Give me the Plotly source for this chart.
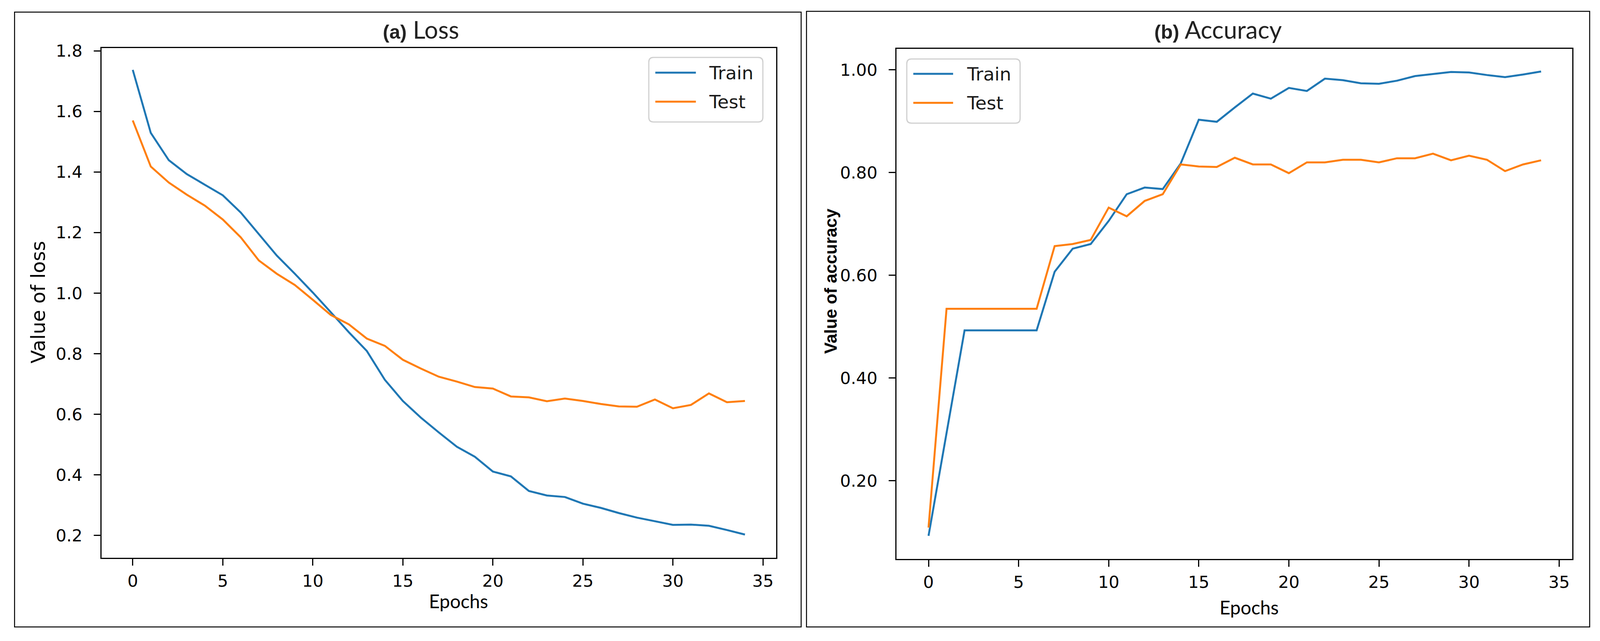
import plotly.graph_objects as go

W, H = 4180, 1641
# the rendered page area starts a little below the top of the captured picture;
# vertical paper positions are mapped to keep reference pixel rows aligned
TOP_OFF, FIG_H = 19, 1622

epochs = list(range(35))

loss_train = [1.737, 1.529, 1.439, 1.393, 1.358, 1.323, 1.266, 1.196, 1.124, 1.064,
              1.002, 0.937, 0.871, 0.809, 0.714, 0.644, 0.589, 0.540, 0.493, 0.460,
              0.411, 0.395, 0.347, 0.332, 0.327, 0.305, 0.291, 0.274, 0.259, 0.247,
              0.235, 0.236, 0.232, 0.218, 0.203]
loss_test = [1.570, 1.418, 1.365, 1.325, 1.289, 1.243, 1.184, 1.108, 1.064, 1.027,
             0.978, 0.928, 0.897, 0.850, 0.826, 0.780, 0.751, 0.724, 0.708, 0.690,
             0.685, 0.659, 0.656, 0.643, 0.652, 0.644, 0.634, 0.626, 0.625, 0.649,
             0.620, 0.631, 0.669, 0.640, 0.644]

acc_train = [0.093, 0.295, 0.493, 0.493, 0.493, 0.493, 0.493, 0.607, 0.652, 0.661,
             0.706, 0.758, 0.771, 0.768, 0.818, 0.903, 0.899, 0.927, 0.954, 0.944,
             0.965, 0.959, 0.983, 0.980, 0.974, 0.973, 0.979, 0.988, 0.992, 0.996,
             0.995, 0.990, 0.986, 0.991, 0.997]
acc_test = [0.109, 0.535, 0.535, 0.535, 0.535, 0.535, 0.535, 0.657, 0.661, 0.669,
            0.732, 0.715, 0.745, 0.758, 0.816, 0.812, 0.811, 0.829, 0.816, 0.816,
            0.799, 0.820, 0.820, 0.825, 0.825, 0.820, 0.828, 0.828, 0.837, 0.824,
            0.833, 0.825, 0.803, 0.816, 0.824]

series_names = ["Train", "Test"]
x_ticks = [0, 5, 10, 15, 20, 25, 30, 35]
loss_ticks = [0.2, 0.4, 0.6, 0.8, 1.0, 1.2, 1.4, 1.6, 1.8]
acc_ticks = [0.2, 0.4, 0.6, 0.8, 1.0]

BLUE = "#1f77b4"
ORANGE = "#ff7f0e"
COLORS = [BLUE, ORANGE]


def px_x(p):
    return p / W


def px_y(p):
    return 1 - (p - TOP_OFF) / FIG_H


fig = go.Figure()

fig.add_trace(go.Scatter(x=epochs, y=loss_train, mode="lines", name=series_names[0],
                         line=dict(color=BLUE, width=5), xaxis="x", yaxis="y"))
fig.add_trace(go.Scatter(x=epochs, y=loss_test, mode="lines", name=series_names[1],
                         line=dict(color=ORANGE, width=5), xaxis="x", yaxis="y"))
fig.add_trace(go.Scatter(x=epochs, y=acc_train, mode="lines", name=series_names[0],
                         line=dict(color=BLUE, width=5), xaxis="x2", yaxis="y2"))
fig.add_trace(go.Scatter(x=epochs, y=acc_test, mode="lines", name=series_names[1],
                         line=dict(color=ORANGE, width=5), xaxis="x2", yaxis="y2"))

axis_common = dict(showline=True, mirror=True, linecolor="black", linewidth=3,
                   ticks="outside", ticklen=17, tickwidth=3, tickcolor="black",
                   showgrid=False, zeroline=False,
                   tickfont=dict(family="DejaVu Sans", size=43, color="black"))

fig.update_layout(
    autosize=True,
    margin=dict(l=0, r=0, t=0, b=0),
    paper_bgcolor="white", plot_bgcolor="white",
    font=dict(family="DejaVu Sans", size=43, color="black"),
    showlegend=False,
    xaxis=dict(domain=[px_x(265), px_x(2028)], anchor="y", range=[-1.74, 35.74],
               tickvals=x_ticks, ticklabelstandoff=3, **axis_common),
    yaxis=dict(domain=[px_y(1428), px_y(124)], anchor="x", range=[0.1265, 1.809],
               tickvals=loss_ticks, tickformat=".1f", ticklabelstandoff=20, **axis_common),
    xaxis2=dict(domain=[px_x(2342), px_x(4108)], anchor="y2", range=[-1.78, 35.74],
                tickvals=x_ticks, ticklabelstandoff=3, **axis_common),
    yaxis2=dict(domain=[px_y(1431), px_y(126)], anchor="x2", range=[0.048, 1.041],
                tickvals=acc_ticks, tickformat=".2f", ticklabelstandoff=20, **axis_common),
)

# axis titles
fig.add_annotation(text="Epochs", xref="paper", yref="paper", x=px_x(1198), y=px_y(1539),
                   xanchor="center", yanchor="middle", showarrow=False,
                   font=dict(family="Lato", size=48, color="black"))
fig.add_annotation(text="Epochs", xref="paper", yref="paper", x=px_x(3264), y=px_y(1555),
                   xanchor="center", yanchor="middle", showarrow=False,
                   font=dict(family="Lato", size=48, color="black"))
fig.add_annotation(text="Value of loss", xref="paper", yref="paper", x=px_x(100), y=px_y(774),
                   xanchor="center", yanchor="middle", showarrow=False, textangle=-90,
                   font=dict(family="DejaVu Sans", size=50, color="black"))
fig.add_annotation(text="<b>Value of accuracy</b>", xref="paper", yref="paper", x=px_x(2170), y=px_y(720),
                   xanchor="center", yanchor="middle", showarrow=False, textangle=-90,
                   font=dict(family="Liberation Sans", size=44, color="black"))

title_bold = '<span style="font-family:Liberation Sans;font-weight:bold;font-size:50px">{}</span>'
fig.add_annotation(text=title_bold.format("(a)") + " Loss", xref="paper", yref="paper",
                   x=px_x(1100), y=px_y(76), xanchor="center", yanchor="middle",
                   showarrow=False, font=dict(family="Lato", size=62, color="#222222"))
fig.add_annotation(text=title_bold.format("(b)") + " Accuracy", xref="paper", yref="paper",
                   x=px_x(3182), y=px_y(76), xanchor="center", yanchor="middle",
                   showarrow=False, font=dict(family="Lato", size=62, color="#222222"))

# panel frames
fig.add_shape(type="rect", xref="paper", yref="paper",
              x0=px_x(38), x1=px_x(2093), y0=px_y(1605), y1=px_y(32),
              line=dict(color="black", width=2.5), fillcolor="rgba(0,0,0,0)", layer="below")
fig.add_shape(type="rect", xref="paper", yref="paper",
              x0=px_x(2107), x1=px_x(4153), y0=px_y(1605), y1=px_y(30),
              line=dict(color="black", width=2.5), fillcolor="rgba(0,0,0,0)", layer="below")


def rounded_box(x0, y0, x1, y1, r):
    X = lambda v: f"{px_x(v):.6f}"
    Y = lambda v: f"{px_y(v):.6f}"
    pts = [
        f"M{X(x0 + r)},{Y(y0)}",
        f"L{X(x1 - r)},{Y(y0)}",
        f"Q{X(x1)},{Y(y0)} {X(x1)},{Y(y0 + r)}",
        f"L{X(x1)},{Y(y1 - r)}",
        f"Q{X(x1)},{Y(y1)} {X(x1 - r)},{Y(y1)}",
        f"L{X(x0 + r)},{Y(y1)}",
        f"Q{X(x0)},{Y(y1)} {X(x0)},{Y(y1 - r)}",
        f"L{X(x0)},{Y(y0 + r)}",
        f"Q{X(x0)},{Y(y0)} {X(x0 + r)},{Y(y0)}",
        "Z",
    ]
    return " ".join(pts)


legend_specs = [
    dict(box=(1695, 148, 1993, 313), line_x=(1712, 1818), rows=(187, 261), text_x=1850),
    dict(box=(2369, 152, 2665, 316), line_x=(2386, 2490), rows=(190, 264), text_x=2524),
]
for spec in legend_specs:
    bx0, by0, bx1, by1 = spec["box"]
    fig.add_shape(type="path", xref="paper", yref="paper",
                  path=rounded_box(bx0, by0, bx1, by1, 12),
                  line=dict(color="#d0d0d0", width=3), fillcolor="rgba(255,255,255,0.8)")
    for name, color, ry in zip(series_names, COLORS, spec["rows"]):
        fig.add_shape(type="line", xref="paper", yref="paper",
                      x0=px_x(spec["line_x"][0]), x1=px_x(spec["line_x"][1]),
                      y0=px_y(ry), y1=px_y(ry), line=dict(color=color, width=5))
        fig.add_annotation(text=name, xref="paper", yref="paper",
                           x=px_x(spec["text_x"]), y=px_y(ry), xanchor="left", yanchor="middle",
                           showarrow=False,
                           font=dict(family="DejaVu Sans", size=47, color="#1a1a1a"))

fig.write_html("out.html",
               default_width="100vw", default_height="100vh",
               config={"responsive": True, "displayModeBar": False},
               post_script="document.body.style.margin='0';document.body.style.overflow='hidden';"
                           "window.dispatchEvent(new Event('resize'));")
